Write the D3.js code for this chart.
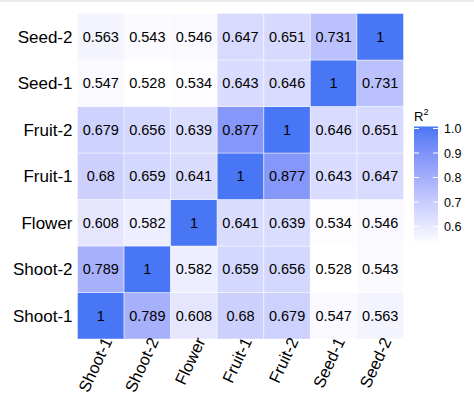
<!DOCTYPE html>
<html><head><meta charset="utf-8">
<script src="https://cdn.jsdelivr.net/npm/d3@7"></script>
<style>
html,body{margin:0;padding:0;background:#fff;}
text{font-family:"Liberation Sans",Arial,sans-serif;fill:#000;}
</style></head>
<body>
<svg id="chart" width="474" height="398"></svg>
<script>
const samples = ["Shoot-1","Shoot-2","Flower","Fruit-1","Fruit-2","Seed-1","Seed-2"];
// rows of the correlation matrix in the order of samples
const rShoot1 = [1, 0.789, 0.608, 0.68, 0.679, 0.547, 0.563];
const rShoot2 = [0.789, 1, 0.582, 0.659, 0.656, 0.528, 0.543];
const rFlower = [0.608, 0.582, 1, 0.641, 0.639, 0.534, 0.546];
const rFruit1 = [0.68, 0.659, 0.641, 1, 0.877, 0.643, 0.647];
const rFruit2 = [0.679, 0.656, 0.639, 0.877, 1, 0.646, 0.651];
const rSeed1 = [0.547, 0.528, 0.534, 0.643, 0.646, 1, 0.731];
const rSeed2 = [0.563, 0.543, 0.546, 0.647, 0.651, 0.731, 1];
const matrix = [rShoot1, rShoot2, rFlower, rFruit1, rFruit2, rSeed1, rSeed2];
const legendTicks = [0.6, 0.7, 0.8, 0.9, 1.0];
const legendTitle = "R";

const svg = d3.select("#chart");
svg.append("rect").attr("x",0).attr("y",0).attr("width",474).attr("height",2).attr("fill","#ebebeb");

const mLeft = 77.5, mRight = 403.5, mTop = 13.5, mBottom = 339;
const x = d3.scaleBand().domain(samples).range([mLeft, mRight]);
const y = d3.scaleBand().domain(samples).range([mBottom, mTop]);

const flat = [];
matrix.forEach((row, i) => row.forEach((v, j) => flat.push({col: samples[j], row: samples[i], v})));
const vmin = d3.min(flat, d => d.v), vmax = d3.max(flat, d => d.v);
const color = d3.scaleLinear().domain([vmin, vmax]).range(["#ffffff", "#4876f5"]).interpolate(d3.interpolateLab);

const g = svg.append("g");
g.selectAll("rect.cell").data(flat).join("rect")
  .attr("class","cell")
  .attr("x", d => x(d.col)).attr("y", d => y(d.row))
  .attr("width", x.bandwidth()).attr("height", y.bandwidth())
  .attr("fill", d => color(d.v))
  .attr("stroke", "#ffffff").attr("stroke-opacity", 0.45).attr("stroke-width", 1);

g.selectAll("text.val").data(flat).join("text")
  .attr("class","val")
  .attr("x", d => x(d.col) + x.bandwidth()/2)
  .attr("y", d => y(d.row) + y.bandwidth()/2)
  .attr("dy", "0.36em")
  .attr("text-anchor","middle")
  .style("font-size","14.5px")
  .text(d => String(d.v));

// Y axis labels
svg.append("g").selectAll("text").data(samples).join("text")
  .attr("x", mLeft - 5)
  .attr("y", d => y(d) + y.bandwidth()/2)
  .attr("dy","0.36em")
  .attr("text-anchor","end")
  .style("font-size","17px")
  .text(d => d);

// X axis labels
svg.append("g").selectAll("text").data(samples).join("text")
  .attr("transform", d => `translate(${x(d) + x.bandwidth()/2 + 1},${mBottom - 3}) rotate(-65)`)
  .attr("dy","0.72em")
  .attr("text-anchor","end")
  .style("font-size","16.5px")
  .text(d => d);

// Legend
const ly = d3.scaleLinear().domain([0.6, 1.0]).range([226.5, 128.5]);
const barX = 414, barW = 24;
const defs = svg.append("defs");
const grad = defs.append("linearGradient").attr("id","lg").attr("x1",0).attr("x2",0).attr("y1",1).attr("y2",0);
d3.range(0, 1.0001, 0.05).forEach(t => {
  grad.append("stop").attr("offset", t).attr("stop-color", color(vmin + t*(vmax - vmin)));
});
const barTop = ly(vmax) - 2, barBot = ly(vmin);
svg.append("rect").attr("x", barX).attr("y", barTop).attr("width", barW).attr("height", barBot - barTop)
  .attr("fill", "url(#lg)");
const lt = svg.append("g");
legendTicks.forEach(t => {
  lt.append("line").attr("x1", barX).attr("x2", barX + 5).attr("y1", ly(t)).attr("y2", ly(t))
    .attr("stroke","#fff").attr("stroke-width",1);
  lt.append("line").attr("x1", barX + barW - 5).attr("x2", barX + barW).attr("y1", ly(t)).attr("y2", ly(t))
    .attr("stroke","#fff").attr("stroke-width",1);
  lt.append("text").attr("x", barX + barW + 6).attr("y", ly(t)).attr("dy","0.36em")
    .style("font-size","12.5px").text(d3.format(".1f")(t));
});
const title = svg.append("text").attr("x", 414).attr("y", 120.5).style("font-size","13px");
title.append("tspan").text(legendTitle);
title.append("tspan").attr("dy", -5.5).style("font-size","9px").text("2");
</script>
</body></html>
